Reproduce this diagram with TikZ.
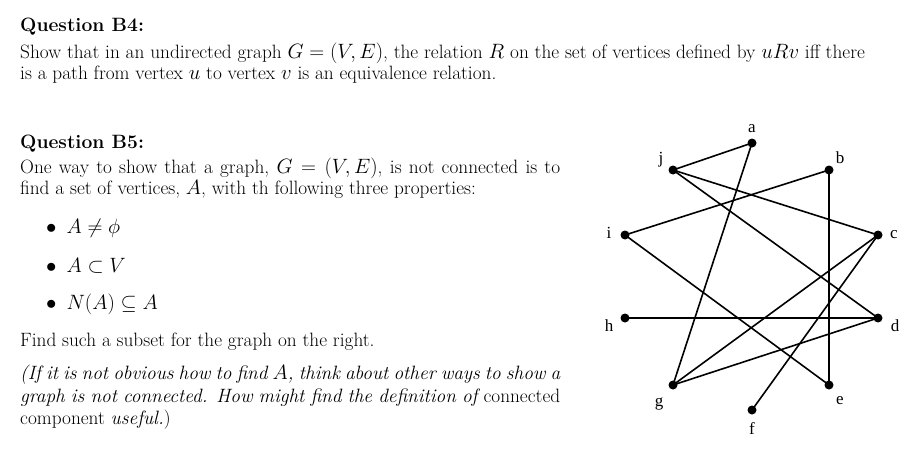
\documentclass[tikz,border=0pt]{standalone}
\usepackage{fontspec}
\newfontfamily\timesf{Liberation Serif}
\begin{document}
\begin{tikzpicture}[x=1pt,y=-1pt,
  txt/.style={anchor=base west,inner sep=0pt,font=\fontsize{19.3}{21}\selectfont},
  vtx/.style={circle,fill=black,inner sep=0pt,minimum size=9pt},
  vl/.style={inner sep=1pt,font=\timesf\fontsize{17}{20}\selectfont},
  edge/.style={line width=1.6pt}]
\useasboundingbox (0,0) rectangle (919,455);
\node[txt] (t1) at (20,31) {\bfseries Question B4:};
\node[txt] (t2) at (20,58) {Show that in an undirected graph $G=(V,E)$, the relation $R$ on the set of vertices defined by $uRv$ iff there};
\node[txt] (t3) at (20,79) {is a path from vertex $u$ to vertex $v$ is an equivalence relation.};
\node[txt] (t4) at (20,148) {\bfseries Question B5:};
\node[txt] (t5) at (20,173) {\makebox[540pt][s]{One way to show that a graph, $G=(V,E)$, is not connected is to}};
\node[txt] (t6) at (20,194) {find a set of vertices, $A$, with th following three properties:};
\node[txt] (b1) at (46,233) {$\bullet$\hspace{10pt}$A\neq\phi$};
\node[txt] (b2) at (46,272) {$\bullet$\hspace{10pt}$A\subset V$};
\node[txt] (b3) at (46,309) {$\bullet$\hspace{10pt}$N(A)\subseteq A$};
\node[txt] (t7) at (20,346) {Find such a subset for the graph on the right.};
\node[txt] (t8) at (20,379) {\makebox[540pt][s]{\itshape (If it is not obvious how to find $A$, think about other ways to show a}};
\node[txt] (t9) at (20,402) {\makebox[540pt][s]{\itshape graph is not connected. How might find the definition of \upshape connected}};
\node[txt] (t10) at (20,424) {component \itshape useful.\upshape)};

\node[vtx] (a) at (752,143) {};
\node[vtx] (b) at (829,170) {};
\node[vtx] (c) at (878,235) {};
\node[vtx] (d) at (878,318) {};
\node[vtx] (e) at (829,385) {};
\node[vtx] (f) at (752,410) {};
\node[vtx] (g) at (673,385) {};
\node[vtx] (h) at (625,318) {};
\node[vtx] (i) at (625,235) {};
\node[vtx] (j) at (673,170) {};
\node[vl] at (752,129) {a};
\node[vl] at (840,158) {b};
\node[vl] at (894,235) {c};
\node[vl] at (895,326) {d};
\node[vl] at (840,401) {e};
\node[vl] at (752,429) {f};
\node[vl] at (659,404) {g};
\node[vl] at (609,326) {h};
\node[vl] at (609,233) {i};
\node[vl] at (661,160) {j};

\draw[edge] (j.center) -- (a.center);
\draw[edge] (a.center) -- (g.center);
\draw[edge] (j.center) -- (c.center);
\draw[edge] (j.center) -- (d.center);
\draw[edge] (b.center) -- (i.center);
\draw[edge] (b.center) -- (e.center);
\draw[edge] (i.center) -- (e.center);
\draw[edge] (c.center) -- (g.center);
\draw[edge] (c.center) -- (f.center);
\draw[edge] (h.center) -- (d.center);
\draw[edge] (d.center) -- (g.center);
\end{tikzpicture}
\end{document}
